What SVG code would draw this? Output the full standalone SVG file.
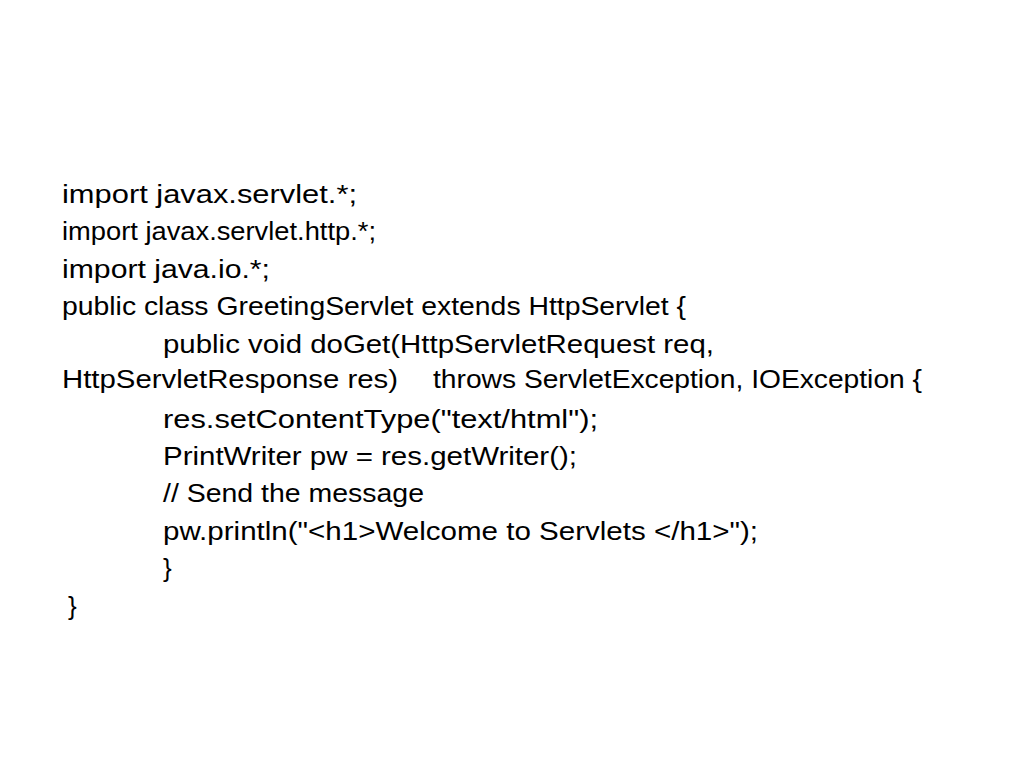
<svg xmlns="http://www.w3.org/2000/svg" width="1024" height="768" viewBox="0 0 1024 768">
<style>text{font-family:"Liberation Sans","DejaVu Sans",sans-serif;font-size:26px;fill:#000}</style>
<rect width="1024" height="768" fill="#fff"/>
<g id="code">
<text x="62" y="203" textLength="295" lengthAdjust="spacingAndGlyphs">import javax.servlet.*;</text>
<text x="62" y="240" textLength="314" lengthAdjust="spacingAndGlyphs">import javax.servlet.http.*;</text>
<text x="62" y="278" textLength="208" lengthAdjust="spacingAndGlyphs">import java.io.*;</text>
<text x="62" y="315" textLength="624" lengthAdjust="spacingAndGlyphs">public class GreetingServlet extends HttpServlet {</text>
<text x="163" y="353" textLength="551" lengthAdjust="spacingAndGlyphs">public void doGet(HttpServletRequest req,</text>
<text x="62" y="388" textLength="336" lengthAdjust="spacingAndGlyphs">HttpServletResponse res)</text>
<text x="433" y="388" textLength="489" lengthAdjust="spacingAndGlyphs">throws ServletException, IOException {</text>
<text x="163" y="428" textLength="435" lengthAdjust="spacingAndGlyphs">res.setContentType("text/html");</text>
<text x="163" y="465" textLength="414" lengthAdjust="spacingAndGlyphs">PrintWriter pw = res.getWriter();</text>
<text x="163" y="502" textLength="261" lengthAdjust="spacingAndGlyphs">// Send the message</text>
<text x="163" y="540" textLength="595" lengthAdjust="spacingAndGlyphs">pw.println("&lt;h1&gt;Welcome to Servlets &lt;/h1&gt;");</text>
<text x="163" y="577">}</text>
<text x="68" y="615">}</text>
</g>
</svg>
